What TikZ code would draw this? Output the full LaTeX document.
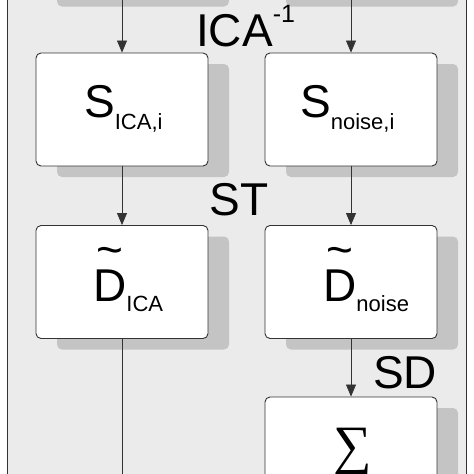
\documentclass[tikz,border=0pt]{standalone}
\usepackage{fontspec}
\setmainfont{Liberation Sans}
\newfontfamily\serifsum{Liberation Serif}
\usetikzlibrary{arrows.meta,shadows}

\definecolor{panelgrey}{HTML}{EBEBEB}
\definecolor{shadowgrey}{HTML}{C4C4C4}
\definecolor{linegrey}{HTML}{333333}

% tilde set well above a letter
\newcommand{\hightilde}[1]{\ooalign{#1\cr\hidewidth\raisebox{36pt}{\textasciitilde}\hidewidth\cr}}

\begin{document}
\begin{tikzpicture}[
        x=1pt, y=-1pt,
        box/.style={draw=linegrey, fill=white, line width=0.9pt, rounded corners=5pt,
            minimum width=172pt, minimum height=113pt, inner sep=0pt,
            drop shadow={shadow xshift=21pt, shadow yshift=-11pt, fill=shadowgrey, opacity=1}},
        big/.style={font=\fontsize{46}{50}\selectfont, text=black, inner sep=0pt},
        flow/.style={draw=linegrey, line width=0.8pt, -{Triangle[length=12pt,width=10pt]}}
    ]

    % --- Frame ---
    \useasboundingbox (0,0) rectangle (474,474);
    \fill[white] (0,0) rectangle (474,474);
    \draw[linegrey, fill=panelgrey, line width=0.8pt] (7,-20) rectangle (466,500);

    % --- Boxes ---
    \node[box] (topica) at (122,-61) {};
    \node[box] (topnoise) at (351,-61) {};

    \node[box] (sica) at (122,109.5) {};
    \node[box] (snoise) at (351,109.5) {};

    \node[box] (dica) at (122,282) {};
    \node[box] (dnoise) at (351,282) {};

    \node[box] (sum) at (351,453.5) {};

    % --- Box texts ---
    \node[big, anchor=base west] (sicatext) at (84,117)
        {S\raisebox{-12pt}{\fontsize{22}{22}\selectfont ICA,i}};
    \node[big, anchor=base west] (snoisetext) at (300,117)
        {S\raisebox{-12pt}{\fontsize{22}{22}\selectfont noise,i}};

    \node[big, anchor=base west] (dicatext) at (93,301)
        {\hightilde{D}\raisebox{-10pt}{\fontsize{22}{22}\selectfont ICA}};
    \node[big, anchor=base west] (dnoisetext) at (323,301)
        {\hightilde{D}\raisebox{-10pt}{\fontsize{22}{22}\selectfont noise}};

    \node[inner sep=0pt, font=\serifsum\fontsize{54}{54}\selectfont] (sumtext) at (353,452) {∑};

    % --- Step labels ---
    \node[big, anchor=base west] (invlabel) at (196,46)
        {ICA\raisebox{24pt}{\fontsize{25}{25}\selectfont -1}};
    \node[big, anchor=base] (stlabel) at (239,215) {ST};
    \node[big, anchor=base] (sdlabel) at (405,388) {SD};

    % --- Arrows ---
    \coordinate (leftend) at (122,490);
    \draw[flow] (topica) -- (sica);
    \draw[flow] (topnoise) -- (snoise);
    \draw[flow] (sica) -- (dica);
    \draw[flow] (snoise) -- (dnoise);
    \draw[flow] (dnoise) -- (sum);
    \draw[draw=linegrey, line width=0.8pt] (dica) -- (leftend);

\end{tikzpicture}
\end{document}
